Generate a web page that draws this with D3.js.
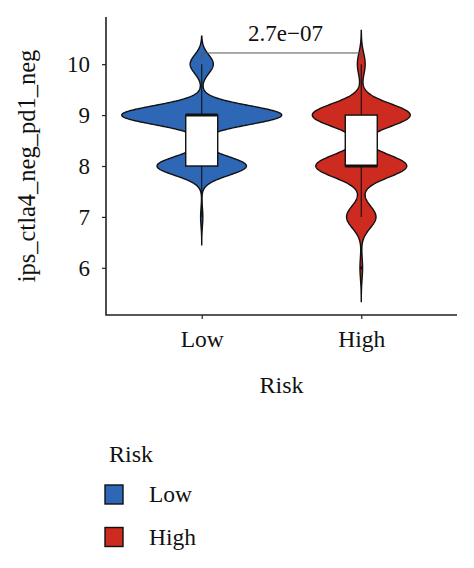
<!DOCTYPE html>
<html><head><meta charset="utf-8">
<script src="https://cdn.jsdelivr.net/npm/d3@7"></script>
</head><body style="margin:0;background:#fff"><svg id="chart" width="474" height="568"></svg>
<script>
// ---- data ----
const categories = ["Low", "High"];
const scoreValues = [6, 7, 8, 9, 10];
const lowCounts = [0, 2, 81, 145, 21];
const highCounts = [3, 34, 105, 113, 9];
const groupColors = ["#2E67B5", "#CD2A20"];
const yTicks = [6, 7, 8, 9, 10];
const pLabel = "2.7e\u221207";
const bracketValue = 10.22;
const xTitle = "Risk";
const yTitle = "ips_ctla4_neg_pd1_neg";
const legendTitle = "Risk";
const FONT = '"Liberation Serif"';

// ---- stats ----
function expand(counts) {
  const arr = [];
  counts.forEach((c, i) => { for (let k = 0; k < c; k++) arr.push(scoreValues[i]); });
  return arr;
}
function bwNrd0(v) {
  const sd = d3.deviation(v);
  const iqr = d3.quantileSorted(v, 0.75) - d3.quantileSorted(v, 0.25);
  return 0.9 * Math.min(sd, iqr / 1.34) * Math.pow(v.length, -0.2);
}
const groups = [lowCounts, highCounts].map((counts, gi) => {
  const v = expand(counts).sort(d3.ascending);
  const n = v.length;
  const bw = bwNrd0(v);
  const lo = v[0] - 3 * bw, hi = v[n - 1] + 3 * bw;
  const grid = d3.range(512).map(i => lo + (hi - lo) * i / 511);
  const dens = grid.map(x => {
    let s = 0;
    counts.forEach((c, i) => {
      if (!c) return;
      const z = (x - scoreValues[i]) / bw;
      s += c * Math.exp(-0.5 * z * z);
    });
    return { x, d: s / (n * bw * Math.sqrt(2 * Math.PI)) };
  });
  const q1 = d3.quantileSorted(v, 0.25), med = d3.quantileSorted(v, 0.5), q3 = d3.quantileSorted(v, 0.75);
  const iqr = q3 - q1;
  const wLo = d3.min(v.filter(d => d >= q1 - 1.5 * iqr));
  const wHi = d3.max(v.filter(d => d <= q3 + 1.5 * iqr));
  const outliers = Array.from(new Set(v.filter(d => d < wLo || d > wHi)));
  return { name: categories[gi], color: groupColors[gi], dens, q1, med, q3, wLo, wHi, outliers, lo, hi };
});

// ---- layout ----
const svg = d3.select("#chart");
const plot = { left: 106, right: 457, top: 17, bottom: 315 };

const yMin = d3.min(groups, g => g.lo), yMax = d3.max(groups, g => g.hi);
const pad = (yMax - yMin) * 0.05;
const y = d3.scaleLinear().domain([yMin - pad, yMax + pad]).range([plot.bottom, plot.top]);
const x = d3.scalePoint().domain(categories).range([plot.left, plot.right]).padding(0.6);
const maxD = d3.max(groups, g => d3.max(g.dens, d => d.d));
const w = d3.scaleLinear().domain([0, maxD]).range([0, 80]);
const boxHalf = 16;

// violins
groups.forEach(g => {
  const cx = x(g.name);
  const area = d3.area().y(d => y(d.x)).x0(d => cx - w(d.d)).x1(d => cx + w(d.d));
  svg.append("path").attr("d", area(g.dens))
    .attr("fill", g.color).attr("stroke", "#111").attr("stroke-width", 1.4);
});

// boxplots
groups.forEach(g => {
  const cx = x(g.name);
  svg.append("line").attr("x1", cx).attr("x2", cx).attr("y1", y(g.q3)).attr("y2", y(g.wHi))
    .attr("stroke", "#111").attr("stroke-width", 1.1);
  svg.append("line").attr("x1", cx).attr("x2", cx).attr("y1", y(g.q1)).attr("y2", y(g.wLo))
    .attr("stroke", "#111").attr("stroke-width", 1.1);
  svg.append("rect").attr("x", cx - boxHalf).attr("width", 2 * boxHalf)
    .attr("y", y(g.q3)).attr("height", y(g.q1) - y(g.q3))
    .attr("fill", "#fff").attr("stroke", "#111").attr("stroke-width", 1.4);
  svg.append("line").attr("x1", cx - boxHalf).attr("x2", cx + boxHalf).attr("y1", y(g.med)).attr("y2", y(g.med))
    .attr("stroke", "#111").attr("stroke-width", 3);
  g.outliers.forEach(o => {
    svg.append("circle").attr("cx", cx).attr("cy", y(o)).attr("r", 1.6).attr("fill", "#111");
  });
});

// significance bracket
const bx1 = x(categories[0]), bx2 = x(categories[1]), by = y(bracketValue);
svg.append("path")
  .attr("d", `M${bx1},${y(bracketValue - 0.12)}V${by}H${bx2}V${y(bracketValue - 0.12)}`)
  .attr("fill", "none").attr("stroke", "#555").attr("stroke-width", 1);
svg.append("text").attr("x", (bx1 + bx2) / 2 + 4).attr("y", by - 12)
  .attr("text-anchor", "middle").style("font-family", FONT).style("font-size", "23px").attr("fill", "#111").text(pLabel);

// axes
const yAxis = svg.append("g").attr("transform", `translate(${plot.left},0)`)
  .call(d3.axisLeft(y).tickValues(yTicks).tickSize(4).tickSizeOuter(0).tickPadding(12).tickFormat(d3.format("d")));
yAxis.select(".domain").remove();
yAxis.selectAll(".tick line").attr("stroke", "#222").attr("stroke-width", 1.2);
yAxis.selectAll(".tick text").style("font-family", FONT).style("font-size", "23px").attr("fill", "#111");

const xAxis = svg.append("g").attr("transform", `translate(0,${plot.bottom})`)
  .call(d3.axisBottom(x).tickSize(4).tickSizeOuter(0).tickPadding(11));
xAxis.select(".domain").remove();
xAxis.selectAll(".tick line").attr("stroke", "#222").attr("stroke-width", 1.2);
xAxis.selectAll(".tick text").style("font-family", FONT).style("font-size", "23.5px").attr("fill", "#111");

svg.append("path").attr("d", `M${plot.left},${plot.top}V${plot.bottom}H${plot.right}`)
  .attr("fill", "none").attr("stroke", "#222").attr("stroke-width", 1.6);

// axis titles
svg.append("text").attr("x", (plot.left + plot.right) / 2).attr("y", 393)
  .attr("text-anchor", "middle").style("font-family", FONT).style("font-size", "24px").attr("fill", "#111").text(xTitle);
svg.append("text").attr("transform", `translate(35,${(plot.top + plot.bottom) / 2}) rotate(-90)`)
  .attr("text-anchor", "middle").style("font-family", FONT).style("font-size", "24.5px").attr("fill", "#111").text(yTitle);

// legend
svg.append("text").attr("x", 109).attr("y", 461.5).style("font-family", FONT).style("font-size", "24px").attr("fill", "#111").text(legendTitle);
categories.forEach((c, i) => {
  const ty = 485 + i * 42.5;
  svg.append("rect").attr("x", 105).attr("y", ty).attr("width", 18).attr("height", 19)
    .attr("fill", groupColors[i]).attr("stroke", "#111").attr("stroke-width", 1.4);
  svg.append("text").attr("x", 149).attr("y", ty + 17).style("font-family", FONT).style("font-size", "23.5px").attr("fill", "#111").text(c);
});
</script></body></html>
